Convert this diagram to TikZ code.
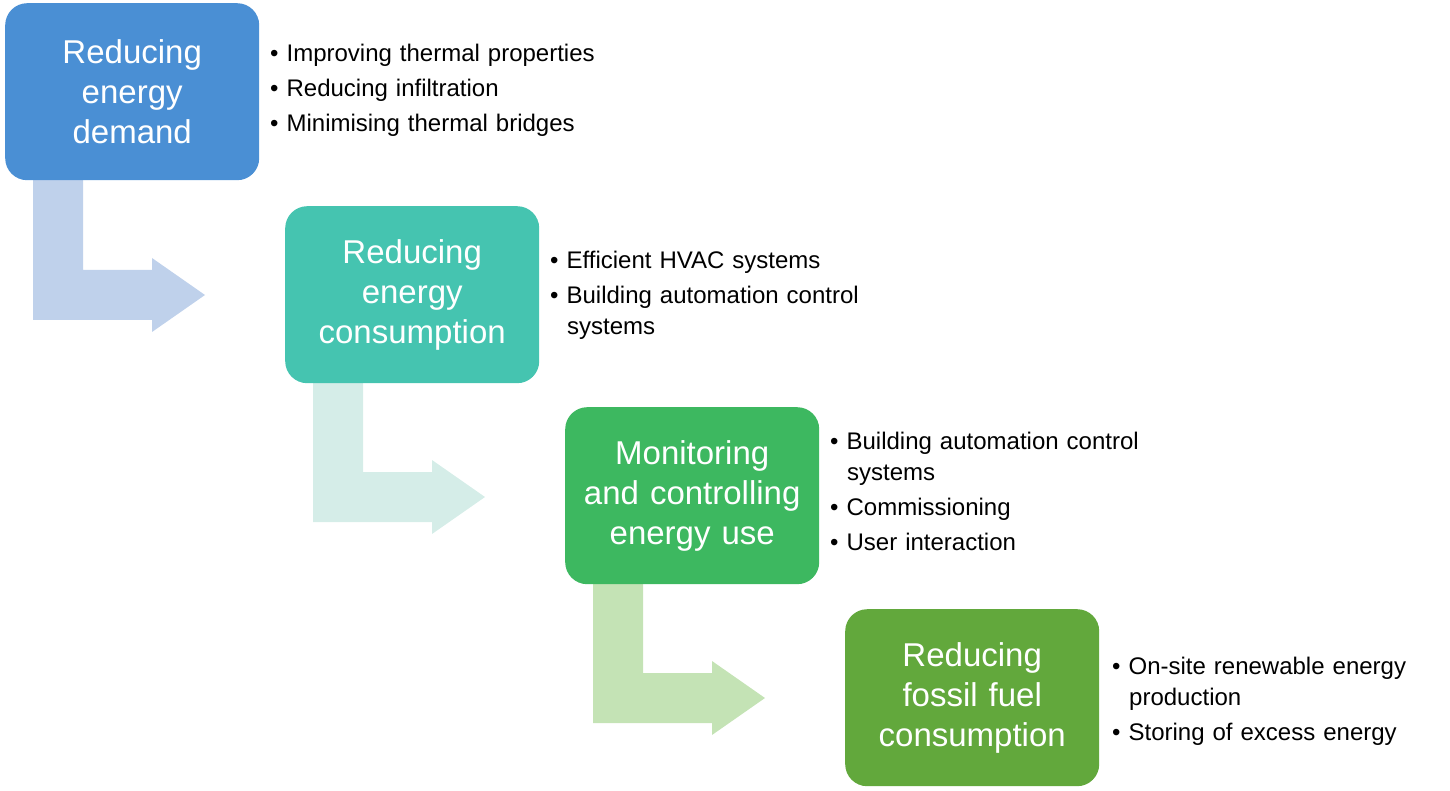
\documentclass[tikz,border=0pt]{standalone}
\usepackage{fontspec}
\setmainfont{Liberation Sans}
\definecolor{c1}{HTML}{4A8FD4}
\definecolor{c2}{HTML}{45C4B0}
\definecolor{c3}{HTML}{3DB860}
\definecolor{c4}{HTML}{62A83C}
\definecolor{a1}{HTML}{BFD1EB}
\definecolor{a2}{HTML}{D5EDE8}
\definecolor{a3}{HTML}{C4E3B5}
\begin{document}
\begin{tikzpicture}[x=1pt,y=-1pt,
 box/.style={rounded corners=22pt,minimum width=254pt,minimum height=177pt,text width=230pt,align=center,text=white,font=\fontsize{33}{40}\selectfont,anchor=north west},
 bl/.style={anchor=north west,align=left,font=\fontsize{24}{31}\selectfont,text width=360pt,inner sep=0pt}]
\useasboundingbox (0,0) rectangle (1450,791);
\newcommand{\bentarrow}[3]{% x, ytop, color
 \fill[#3] (#1,#2) -- (#1+50,#2) -- (#1+50,#2+90) -- (#1+119,#2+90) -- (#1+119,#2+78) -- (#1+172,#2+115) -- (#1+119,#2+152) -- (#1+119,#2+140) -- (#1,#2+140) -- cycle;}
\bentarrow{33}{180}{a1}
\bentarrow{313}{382}{a2}
\bentarrow{593}{583}{a3}
\node[box,fill=c1] (b1) at (5,3) {Reducing energy demand};
\node[box,fill=c2] (b2) at (285,206) {Reducing energy consumption};
\node[box,fill=c3] (b3) at (565,407) {Monitoring and controlling energy use};
\node[box,fill=c4] (b4) at (845,609) {Reducing fossil fuel consumption};
\newcommand{\bl}[1]{\textbullet\ #1\\[4pt]}
\node[bl] (t1) at (270,44) {\textbullet\ Improving thermal properties\\[4pt]\textbullet\ Reducing infiltration\\[4pt]\textbullet\ Minimising thermal bridges};
\node[bl] (t2) at (550,251) {\textbullet\ Efficient HVAC systems\\[4pt]\textbullet\ Building automation control\\\hspace*{17pt}systems};
\node[bl] (t3) at (830,432) {\textbullet\ Building automation control\\\hspace*{17pt}systems\\[4pt]\textbullet\ Commissioning\\[4pt]\textbullet\ User interaction};
\node[bl] (t4) at (1112,657) {\textbullet\ On-site renewable energy\\\hspace*{17pt}production\\[4pt]\textbullet\ Storing of excess energy};
\end{tikzpicture}
\end{document}
